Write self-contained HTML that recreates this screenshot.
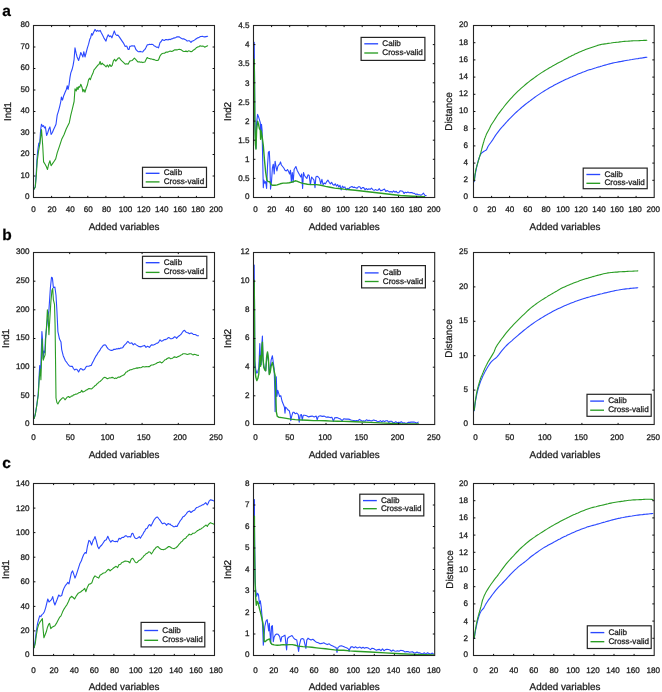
<!DOCTYPE html>
<html lang="en"><head><meta charset="utf-8"><title>Figure</title>
<style>html,body{margin:0;padding:0;background:#fff}svg{display:block}text{text-rendering:geometricPrecision;stroke:#1a1a1a;stroke-width:0.28px}</style></head>
<body>
<svg width="662" height="692" viewBox="0 0 662 692" font-family="'Liberation Sans', Arial, sans-serif" fill="#242424">
<rect width="662" height="692" fill="#fff"/>
<g>
<clipPath id="cp_a1"><rect x="33.5" y="25.5" width="181.0" height="172.0"/></clipPath>
<path d="M34.2 189.1 L35.3 186.4 L36.2 174.0 L36.9 160.4 L37.7 151.1 L38.8 143.1 L39.7 143.8 L40.6 130.2 L41.5 124.2 L42.7 126.4 L43.6 125.7 L44.5 127.9 L45.4 126.9 L46.6 135.5 L47.8 132.5 L49.0 128.7 L49.9 126.9 L51.1 134.4 L52.4 132.5 L53.6 129.5 L54.8 126.9 L56.0 124.2 L57.2 115.1 L58.4 111.3 L59.6 106.8 L60.8 101.5 L61.4 97.0 L62.5 100.1 L63.5 96.3 L65.0 92.5 L66.3 89.5 L67.3 85.7 L68.1 89.5 L69.0 85.0 L70.0 77.4 L70.8 72.9 L72.0 69.8 L73.1 65.3 L74.1 59.3 L75.0 47.9 L76.1 53.2 L77.1 57.0 L78.6 60.5 L79.8 56.3 L80.8 52.5 L82.0 55.0 L82.9 57.0 L83.8 51.7 L85.0 57.0 L86.2 52.5 L87.4 47.9 L88.6 44.2 L89.7 39.6 L90.7 37.4 L91.6 33.6 L92.5 35.1 L93.4 32.8 L95.0 29.4 L96.5 31.3 L97.7 30.3 L98.9 31.3 L100.1 30.3 L101.3 32.8 L102.5 35.1 L104.0 38.1 L105.0 39.6 L106.0 41.1 L107.0 37.4 L108.2 34.8 L109.5 36.6 L110.7 35.9 L111.9 37.8 L113.1 34.4 L114.3 30.9 L115.5 34.4 L116.7 35.4 L117.9 35.1 L119.1 36.6 L120.6 38.9 L122.1 41.1 L123.7 43.4 L125.2 46.4 L126.7 46.0 L128.2 49.5 L129.1 49.5 L129.8 46.4 L131.0 46.1 L132.1 45.7 L133.2 46.1 L134.4 45.7 L135.9 49.5 L137.0 50.6 L138.1 51.7 L139.3 51.6 L140.4 51.4 L141.5 51.8 L142.7 52.0 L143.8 50.4 L144.9 49.5 L146.1 47.2 L147.2 44.9 L148.3 44.7 L149.5 44.2 L150.6 44.5 L151.7 44.2 L152.9 44.5 L154.0 45.7 L155.1 46.2 L156.3 47.2 L157.4 47.1 L158.5 47.9 L160.0 42.7 L161.2 41.5 L162.3 39.6 L163.4 40.2 L164.6 40.4 L165.7 39.5 L166.8 39.6 L168.0 40.0 L169.1 39.3 L170.2 39.6 L171.4 38.9 L172.5 38.7 L173.6 38.1 L174.8 37.9 L175.9 37.4 L177.0 36.8 L178.2 36.9 L179.3 36.8 L180.4 37.8 L181.6 38.4 L182.7 38.9 L183.8 38.8 L185.0 39.6 L186.1 40.1 L187.2 41.1 L188.4 40.7 L189.5 40.8 L191.0 42.4 L192.1 41.1 L193.3 40.8 L194.4 40.1 L195.5 39.3 L196.7 38.5 L197.8 37.8 L198.9 37.6 L200.1 36.6 L201.2 36.5 L202.3 36.3 L203.5 36.8 L204.6 36.9 L206.1 36.6 L207.6 36.3" fill="none" stroke="#2a48ff" stroke-width="1.1" stroke-linejoin="round" stroke-linecap="round" clip-path="url(#cp_a1)"/>
<path d="M34.2 189.1 L35.3 186.9 L36.3 175.5 L37.3 160.4 L38.5 151.4 L39.7 144.6 L40.6 137.8 L41.5 129.5 L42.7 145.3 L43.6 161.9 L45.1 164.2 L46.3 166.5 L47.5 169.5 L48.7 164.2 L49.9 160.7 L51.1 165.7 L52.7 163.4 L54.2 161.2 L55.7 158.9 L57.2 152.9 L59.5 146.1 L61.7 139.3 L64.0 134.7 L66.3 128.7 L69.3 122.7 L70.8 115.1 L72.3 109.1 L74.1 101.5 L75.0 88.7 L76.2 91.0 L77.1 87.2 L78.0 89.5 L78.9 86.5 L79.8 87.2 L80.8 84.2 L82.0 87.2 L82.9 91.8 L83.8 89.5 L85.0 92.2 L86.2 88.0 L87.4 85.0 L88.6 79.7 L89.5 78.2 L90.4 79.7 L91.6 75.9 L92.8 73.6 L94.0 69.8 L95.3 68.3 L96.5 66.8 L97.7 65.3 L98.9 64.6 L100.1 61.5 L101.0 64.6 L102.2 63.1 L103.4 64.6 L104.6 65.3 L106.1 66.8 L107.3 65.0 L108.5 67.1 L109.8 64.6 L111.0 66.5 L112.2 65.3 L113.4 60.8 L114.6 59.3 L115.8 61.1 L117.0 59.6 L118.2 58.1 L119.4 57.8 L120.6 59.6 L122.1 61.1 L123.7 62.6 L125.2 64.1 L126.7 63.8 L128.2 64.1 L129.8 61.1 L131.0 60.8 L132.1 60.5 L133.2 59.4 L134.4 58.1 L135.9 59.6 L137.0 61.0 L138.1 62.0 L139.3 61.8 L140.4 62.3 L141.5 62.0 L142.7 62.6 L143.8 62.2 L144.9 62.0 L146.1 59.5 L147.2 57.5 L148.3 58.3 L149.5 58.5 L150.6 58.9 L151.7 59.0 L152.9 59.4 L154.0 59.6 L155.1 60.1 L156.3 60.5 L157.4 60.4 L158.5 60.0 L160.0 56.0 L161.2 54.4 L162.3 53.5 L163.4 53.3 L164.6 53.2 L165.7 52.3 L166.8 52.0 L168.0 52.1 L169.1 51.4 L170.2 51.0 L171.4 51.4 L172.5 51.3 L173.6 50.5 L174.8 49.8 L175.9 49.9 L177.0 49.9 L178.2 49.5 L179.3 49.3 L180.4 49.5 L181.6 50.1 L182.7 51.0 L183.8 51.5 L185.0 51.4 L186.1 51.1 L187.2 51.7 L188.4 50.9 L189.5 51.0 L191.0 51.7 L192.1 51.4 L193.3 50.2 L194.4 49.5 L195.5 48.7 L196.7 47.4 L197.8 46.9 L198.9 46.8 L200.1 45.7 L201.2 46.3 L202.3 46.0 L203.5 46.2 L204.6 47.2 L206.1 46.4 L207.6 45.7" fill="none" stroke="#2a9d24" stroke-width="1.1" stroke-linejoin="round" stroke-linecap="round" clip-path="url(#cp_a1)"/>
<rect x="33.5" y="25.5" width="181.0" height="172.0" fill="none" stroke="#242424" stroke-width="1.1"/>
<text x="33.5" y="212.3" font-size="8.1" text-anchor="middle">0</text>
<text x="52.1" y="212.3" font-size="8.1" text-anchor="middle">20</text>
<text x="70.2" y="212.3" font-size="8.1" text-anchor="middle">40</text>
<text x="88.3" y="212.3" font-size="8.1" text-anchor="middle">60</text>
<text x="106.4" y="212.3" font-size="8.1" text-anchor="middle">80</text>
<text x="125.6" y="212.3" font-size="8.1" text-anchor="middle">100</text>
<text x="143.7" y="212.3" font-size="8.1" text-anchor="middle">120</text>
<text x="161.8" y="212.3" font-size="8.1" text-anchor="middle">140</text>
<text x="179.9" y="212.3" font-size="8.1" text-anchor="middle">160</text>
<text x="198.0" y="212.3" font-size="8.1" text-anchor="middle">180</text>
<text x="216.1" y="212.3" font-size="8.1" text-anchor="middle">200</text>
<text x="29.5" y="198.5" font-size="8.1" text-anchor="end">0</text>
<text x="29.5" y="177.9" font-size="8.1" text-anchor="end">10</text>
<text x="29.5" y="156.4" font-size="8.1" text-anchor="end">20</text>
<text x="29.5" y="134.9" font-size="8.1" text-anchor="end">30</text>
<text x="29.5" y="113.4" font-size="8.1" text-anchor="end">40</text>
<text x="29.5" y="91.9" font-size="8.1" text-anchor="end">50</text>
<text x="29.5" y="70.4" font-size="8.1" text-anchor="end">60</text>
<text x="29.5" y="48.9" font-size="8.1" text-anchor="end">70</text>
<text x="29.5" y="27.4" font-size="8.1" text-anchor="end">80</text>
<path d="M51.6 197.5v-1.6 M51.6 25.5v1.6 M69.7 197.5v-1.6 M69.7 25.5v1.6 M87.8 197.5v-1.6 M87.8 25.5v1.6 M105.9 197.5v-1.6 M105.9 25.5v1.6 M124.0 197.5v-1.6 M124.0 25.5v1.6 M142.1 197.5v-1.6 M142.1 25.5v1.6 M160.2 197.5v-1.6 M160.2 25.5v1.6 M178.3 197.5v-1.6 M178.3 25.5v1.6 M196.4 197.5v-1.6 M196.4 25.5v1.6 M33.5 176.0h1.9 M214.5 176.0h-1.9 M33.5 154.5h1.9 M214.5 154.5h-1.9 M33.5 133.0h1.9 M214.5 133.0h-1.9 M33.5 111.5h1.9 M214.5 111.5h-1.9 M33.5 90.0h1.9 M214.5 90.0h-1.9 M33.5 68.5h1.9 M214.5 68.5h-1.9 M33.5 47.0h1.9 M214.5 47.0h-1.9" stroke="#111" stroke-width="1" fill="none"/>
<text x="124.1" y="230.2" font-size="9.9" text-anchor="middle">Added variables</text>
<text transform="translate(11.2 111.5) rotate(-90)" font-size="9.9" text-anchor="middle">Ind1</text>
<rect x="142.5" y="167.3" width="64.0" height="20.1" fill="#fff" stroke="#242424" stroke-width="1.2"/>
<path d="M145.7 173.3h13.8" stroke="#2a48ff" stroke-width="1.35"/>
<path d="M145.7 181.9h13.8" stroke="#2a9d24" stroke-width="1.35"/>
<text x="163.7" y="175.3" font-size="8.1">Calib</text>
<text x="163.7" y="183.9" font-size="8.1">Cross-valid</text>
</g>
<g>
<clipPath id="cp_a2"><rect x="253.5" y="25.5" width="181.2" height="172.0"/></clipPath>
<path d="M254.2 42.4 L254.5 69.8 L254.8 115.1 L255.4 137.8 L256.0 148.3 L256.6 122.7 L257.6 114.4 L258.5 116.6 L259.4 119.6 L260.3 122.7 L260.9 136.3 L261.5 124.2 L262.1 130.2 L262.7 160.4 L263.3 187.6 L263.9 180.1 L264.8 183.1 L265.7 181.6 L266.6 188.4 L267.5 166.5 L268.4 152.1 L269.3 151.4 L269.9 163.4 L270.5 189.1 L271.5 181.6 L272.4 168.0 L273.3 164.2 L274.2 174.0 L275.1 161.2 L276.0 166.5 L276.9 171.0 L277.8 166.5 L278.7 165.0 L279.6 164.2 L280.5 161.9 L281.4 165.0 L282.6 166.5 L283.8 168.0 L285.0 170.2 L286.3 171.0 L287.5 169.5 L288.7 171.8 L289.6 174.0 L290.5 170.2 L291.4 181.6 L292.3 172.5 L293.2 182.3 L294.1 169.5 L295.0 168.0 L295.9 166.5 L297.1 170.2 L298.3 172.5 L299.5 174.8 L300.8 177.0 L301.7 174.0 L302.6 188.4 L303.5 172.5 L304.4 175.5 L305.6 177.0 L306.8 178.5 L308.0 174.8 L309.2 175.5 L310.4 184.6 L311.6 177.0 L312.8 178.5 L314.0 180.1 L315.0 187.6 L315.9 177.0 L317.1 176.3 L318.3 177.0 L319.5 178.5 L320.7 183.8 L321.9 179.3 L323.1 184.6 L324.3 183.1 L325.5 183.8 L326.7 181.6 L327.9 180.1 L329.2 182.3 L330.4 183.8 L331.6 182.3 L332.8 184.6 L334.0 185.3 L335.2 183.8 L336.4 186.1 L337.6 184.6 L338.8 186.9 L340.0 185.3 L341.2 189.9 L342.4 186.1 L343.7 187.6 L344.9 186.9 L346.1 189.9 L347.3 188.4 L348.5 189.1 L349.7 187.6 L352.0 186.5 L353.3 187.5 L354.6 187.1 L355.9 187.9 L357.2 188.1 L358.5 186.7 L359.8 186.7 L361.1 189.0 L362.4 187.6 L363.7 187.6 L365.0 189.8 L366.3 188.5 L367.6 189.7 L368.9 188.8 L370.2 189.4 L371.5 188.2 L372.8 189.6 L374.1 190.4 L375.4 189.6 L376.7 190.3 L378.0 190.2 L379.3 188.7 L380.6 190.7 L381.9 190.4 L383.2 189.7 L384.5 189.1 L385.8 191.5 L387.1 190.5 L388.4 191.3 L389.7 191.9 L391.0 191.6 L392.3 192.3 L393.6 190.9 L394.9 192.2 L396.2 191.3 L397.5 192.8 L398.8 192.8 L400.1 190.8 L401.4 191.0 L402.7 191.3 L404.0 193.5 L405.3 192.2 L406.6 192.8 L407.9 192.1 L409.2 192.7 L410.5 192.5 L411.8 192.6 L413.1 193.3 L414.4 193.4 L415.7 194.4 L417.0 194.0 L418.3 194.8 L419.6 194.7 L420.9 195.2 L422.2 194.4 L423.5 193.2 L424.8 195.2 L426.1 195.6" fill="none" stroke="#2a48ff" stroke-width="1.1" stroke-linejoin="round" stroke-linecap="round" clip-path="url(#cp_a2)"/>
<path d="M254.2 59.4 L254.5 84.9 L254.8 122.7 L255.4 143.8 L256.0 149.1 L256.6 130.2 L257.6 121.1 L258.5 124.2 L259.4 128.7 L260.3 130.2 L260.6 139.3 L261.2 131.0 L262.1 136.3 L263.3 145.3 L264.5 160.4 L265.7 172.5 L266.9 180.1 L268.1 181.6 L269.6 181.6 L271.1 184.6 L272.7 185.3 L274.9 185.3 L277.2 184.9 L280.2 183.8 L283.2 183.1 L286.3 183.1 L289.3 182.8 L292.3 182.0 L295.3 180.8 L296.8 181.1 L299.8 182.3 L302.9 183.4 L307.4 184.3 L311.9 184.6 L316.5 184.6 L321.0 185.3 L325.5 186.4 L330.1 187.3 L334.6 188.1 L339.1 188.5 L343.7 189.1 L349.7 189.7 L355.1 190.2 L370.2 192.0 L385.3 193.8 L400.4 195.5 L412.5 196.2 L424.6 196.7" fill="none" stroke="#2a9d24" stroke-width="1.4" stroke-linejoin="round" stroke-linecap="round" clip-path="url(#cp_a2)"/>
<rect x="253.5" y="25.5" width="181.2" height="172.0" fill="none" stroke="#242424" stroke-width="1.1"/>
<text x="255.4" y="212.3" font-size="8.1" text-anchor="middle">0</text>
<text x="271.7" y="212.3" font-size="8.1" text-anchor="middle">20</text>
<text x="289.8" y="212.3" font-size="8.1" text-anchor="middle">40</text>
<text x="308.0" y="212.3" font-size="8.1" text-anchor="middle">60</text>
<text x="326.1" y="212.3" font-size="8.1" text-anchor="middle">80</text>
<text x="343.1" y="212.3" font-size="8.1" text-anchor="middle">100</text>
<text x="361.2" y="212.3" font-size="8.1" text-anchor="middle">120</text>
<text x="379.3" y="212.3" font-size="8.1" text-anchor="middle">140</text>
<text x="397.5" y="212.3" font-size="8.1" text-anchor="middle">160</text>
<text x="415.6" y="212.3" font-size="8.1" text-anchor="middle">180</text>
<text x="433.7" y="212.3" font-size="8.1" text-anchor="middle">200</text>
<text x="249.6" y="199.3" font-size="8.1" text-anchor="end">0</text>
<text x="249.6" y="181.1" font-size="8.1" text-anchor="end">0.5</text>
<text x="249.6" y="162.0" font-size="8.1" text-anchor="end">1</text>
<text x="249.6" y="142.9" font-size="8.1" text-anchor="end">1.5</text>
<text x="249.6" y="123.8" font-size="8.1" text-anchor="end">2</text>
<text x="249.6" y="104.6" font-size="8.1" text-anchor="end">2.5</text>
<text x="249.6" y="85.5" font-size="8.1" text-anchor="end">3</text>
<text x="249.6" y="66.4" font-size="8.1" text-anchor="end">3.5</text>
<text x="249.6" y="47.3" font-size="8.1" text-anchor="end">4</text>
<text x="249.6" y="28.2" font-size="8.1" text-anchor="end">4.5</text>
<path d="M271.6 197.5v-1.6 M271.6 25.5v1.6 M289.7 197.5v-1.6 M289.7 25.5v1.6 M307.9 197.5v-1.6 M307.9 25.5v1.6 M326.0 197.5v-1.6 M326.0 25.5v1.6 M344.1 197.5v-1.6 M344.1 25.5v1.6 M362.2 197.5v-1.6 M362.2 25.5v1.6 M380.3 197.5v-1.6 M380.3 25.5v1.6 M398.5 197.5v-1.6 M398.5 25.5v1.6 M416.6 197.5v-1.6 M416.6 25.5v1.6 M253.5 178.4h1.9 M434.7 178.4h-1.9 M253.5 159.3h1.9 M434.7 159.3h-1.9 M253.5 140.2h1.9 M434.7 140.2h-1.9 M253.5 121.1h1.9 M434.7 121.1h-1.9 M253.5 101.9h1.9 M434.7 101.9h-1.9 M253.5 82.8h1.9 M434.7 82.8h-1.9 M253.5 63.7h1.9 M434.7 63.7h-1.9 M253.5 44.6h1.9 M434.7 44.6h-1.9" stroke="#111" stroke-width="1" fill="none"/>
<text x="344.2" y="230.2" font-size="9.9" text-anchor="middle">Added variables</text>
<text transform="translate(231.4 111.5) rotate(-90)" font-size="9.9" text-anchor="middle">Ind2</text>
<rect x="361.1" y="37.4" width="63.8" height="23.0" fill="#fff" stroke="#242424" stroke-width="1.2"/>
<path d="M364.3 43.8h13.8" stroke="#2a48ff" stroke-width="1.35"/>
<path d="M364.3 53.0h13.8" stroke="#2a9d24" stroke-width="1.35"/>
<text x="382.3" y="45.8" font-size="8.1">Calib</text>
<text x="382.3" y="55.0" font-size="8.1">Cross-valid</text>
</g>
<g>
<clipPath id="cp_a3"><rect x="473.5" y="25.5" width="180.7" height="172.0"/></clipPath>
<path d="M474.2 181.6 L474.6 179.1 L474.9 176.6 L475.3 174.1 L475.6 172.3 L476.0 170.6 L476.3 168.8 L476.7 167.1 L477.0 165.5 L477.4 164.1 L477.7 162.7 L478.1 161.3 L478.4 160.1 L478.8 159.0 L479.1 158.0 L479.5 156.9 L479.8 155.9 L480.2 155.2 L480.5 154.6 L480.9 154.0 L481.2 153.4 L481.6 153.0 L481.9 152.8 L482.3 152.5 L482.6 152.3 L483.0 152.0 L483.3 151.8 L483.7 151.6 L484.0 151.3 L484.4 151.1 L484.7 150.9 L485.1 150.6 L485.4 150.4 L485.8 150.2 L486.1 150.0 L486.5 149.8 L488.0 146.5 L489.5 144.3 L491.0 142.2 L492.5 140.1 L494.0 137.7 L495.5 135.4 L497.0 133.3 L498.5 131.3 L500.0 129.4 L501.5 127.7 L503.0 126.0 L504.5 124.4 L506.0 122.7 L507.5 121.0 L509.0 119.4 L510.5 117.9 L512.0 116.3 L513.5 114.8 L515.0 113.4 L516.5 112.0 L518.0 110.6 L519.5 109.3 L521.0 108.0 L522.5 106.7 L524.0 105.5 L525.5 104.3 L527.0 103.1 L528.5 102.0 L530.0 100.9 L531.5 99.7 L533.0 98.6 L534.5 97.5 L536.0 96.4 L537.5 95.4 L539.0 94.4 L540.5 93.4 L542.0 92.4 L543.5 91.5 L545.0 90.5 L546.5 89.6 L548.0 88.7 L549.5 87.8 L551.0 87.0 L552.5 86.2 L554.0 85.3 L555.5 84.5 L557.0 83.8 L558.5 83.0 L560.0 82.2 L561.5 81.5 L563.0 80.8 L564.5 80.0 L566.0 79.3 L567.5 78.7 L569.0 78.0 L570.5 77.3 L572.0 76.7 L573.5 76.0 L575.0 75.4 L576.5 74.8 L578.0 74.1 L579.5 73.5 L581.0 72.9 L582.5 72.3 L584.0 71.8 L585.5 71.2 L587.0 70.6 L588.5 70.1 L590.0 69.6 L591.5 69.2 L593.0 68.7 L594.5 68.2 L596.0 67.8 L597.5 67.3 L599.0 66.9 L600.5 66.4 L602.0 66.0 L603.5 65.5 L605.0 65.1 L606.5 64.7 L608.0 64.3 L609.5 63.9 L611.0 63.5 L612.5 63.1 L614.0 62.8 L615.5 62.5 L617.0 62.2 L618.5 61.9 L620.0 61.6 L621.5 61.4 L623.0 61.1 L624.5 60.8 L626.0 60.5 L627.5 60.2 L629.0 60.0 L630.5 59.7 L632.0 59.5 L633.5 59.2 L635.0 59.0 L636.5 58.8 L638.0 58.6 L639.5 58.3 L641.0 58.1 L642.5 57.9 L644.0 57.6 L645.5 57.4 L646.9 57.2" fill="none" stroke="#2a48ff" stroke-width="1.1" stroke-linejoin="round" stroke-linecap="round" clip-path="url(#cp_a3)"/>
<path d="M474.2 180.8 L474.6 178.0 L474.9 175.2 L475.3 172.9 L475.6 170.6 L476.0 169.1 L476.3 167.9 L476.7 166.7 L477.0 165.5 L477.4 164.3 L477.7 163.1 L478.1 161.9 L478.4 160.7 L478.8 159.5 L479.1 158.4 L479.5 157.2 L479.8 156.0 L480.2 154.8 L480.5 153.7 L480.9 152.4 L481.2 151.1 L481.6 149.7 L481.9 148.4 L482.3 147.0 L482.6 145.7 L483.0 144.5 L483.3 143.2 L483.7 142.0 L484.0 140.8 L484.4 139.6 L484.7 138.5 L485.1 137.7 L485.4 136.8 L485.8 135.9 L486.1 135.0 L486.5 134.1 L488.0 131.3 L489.5 128.4 L491.0 125.3 L492.5 123.0 L494.0 120.7 L495.5 118.4 L497.0 116.0 L498.5 113.8 L500.0 111.8 L501.5 109.9 L503.0 108.0 L504.5 106.0 L506.0 104.1 L507.5 102.3 L509.0 100.6 L510.5 98.9 L512.0 97.3 L513.5 95.7 L515.0 94.2 L516.5 92.7 L518.0 91.2 L519.5 89.8 L521.0 88.4 L522.5 87.1 L524.0 85.8 L525.5 84.5 L527.0 83.3 L528.5 82.1 L530.0 80.9 L531.5 79.8 L533.0 78.7 L534.5 77.6 L536.0 76.5 L537.5 75.4 L539.0 74.4 L540.5 73.4 L542.0 72.4 L543.5 71.5 L545.0 70.5 L546.5 69.6 L548.0 68.7 L549.5 67.8 L551.0 67.0 L552.5 66.1 L554.0 65.3 L555.5 64.4 L557.0 63.6 L558.5 62.8 L560.0 62.1 L561.5 61.2 L563.0 60.4 L564.5 59.5 L566.0 58.7 L567.5 57.9 L569.0 57.1 L570.5 56.4 L572.0 55.6 L573.5 54.9 L575.0 54.1 L576.5 53.4 L578.0 52.7 L579.5 52.0 L581.0 51.4 L582.5 50.8 L584.0 50.2 L585.5 49.6 L587.0 49.0 L588.5 48.4 L590.0 47.9 L591.5 47.4 L593.0 46.9 L594.5 46.4 L596.0 45.9 L597.5 45.4 L599.0 45.0 L600.5 44.6 L602.0 44.3 L603.5 44.1 L605.0 43.9 L606.5 43.7 L608.0 43.4 L609.5 43.2 L611.0 43.0 L612.5 42.7 L614.0 42.5 L615.5 42.4 L617.0 42.2 L618.5 42.1 L620.0 41.9 L621.5 41.7 L623.0 41.5 L624.5 41.4 L626.0 41.3 L627.5 41.2 L629.0 41.1 L630.5 41.0 L632.0 40.9 L633.5 40.8 L635.0 40.8 L636.5 40.7 L638.0 40.7 L639.5 40.6 L641.0 40.5 L642.5 40.5 L644.0 40.4 L645.5 40.4 L646.9 40.3" fill="none" stroke="#2a9d24" stroke-width="1.1" stroke-linejoin="round" stroke-linecap="round" clip-path="url(#cp_a3)"/>
<rect x="473.5" y="25.5" width="180.7" height="172.0" fill="none" stroke="#242424" stroke-width="1.1"/>
<text x="475.4" y="212.3" font-size="8.1" text-anchor="middle">0</text>
<text x="491.7" y="212.3" font-size="8.1" text-anchor="middle">20</text>
<text x="509.7" y="212.3" font-size="8.1" text-anchor="middle">40</text>
<text x="527.8" y="212.3" font-size="8.1" text-anchor="middle">60</text>
<text x="545.9" y="212.3" font-size="8.1" text-anchor="middle">80</text>
<text x="562.9" y="212.3" font-size="8.1" text-anchor="middle">100</text>
<text x="580.9" y="212.3" font-size="8.1" text-anchor="middle">120</text>
<text x="599.0" y="212.3" font-size="8.1" text-anchor="middle">140</text>
<text x="617.1" y="212.3" font-size="8.1" text-anchor="middle">160</text>
<text x="635.1" y="212.3" font-size="8.1" text-anchor="middle">180</text>
<text x="653.2" y="212.3" font-size="8.1" text-anchor="middle">200</text>
<text x="468.0" y="198.5" font-size="8.1" text-anchor="end">0</text>
<text x="468.0" y="182.2" font-size="8.1" text-anchor="end">2</text>
<text x="468.0" y="165.0" font-size="8.1" text-anchor="end">4</text>
<text x="468.0" y="147.8" font-size="8.1" text-anchor="end">6</text>
<text x="468.0" y="130.6" font-size="8.1" text-anchor="end">8</text>
<text x="468.0" y="113.4" font-size="8.1" text-anchor="end">10</text>
<text x="468.0" y="96.2" font-size="8.1" text-anchor="end">12</text>
<text x="468.0" y="79.0" font-size="8.1" text-anchor="end">14</text>
<text x="468.0" y="61.8" font-size="8.1" text-anchor="end">16</text>
<text x="468.0" y="44.6" font-size="8.1" text-anchor="end">18</text>
<text x="468.0" y="27.4" font-size="8.1" text-anchor="end">20</text>
<path d="M491.6 197.5v-1.6 M491.6 25.5v1.6 M509.6 197.5v-1.6 M509.6 25.5v1.6 M527.7 197.5v-1.6 M527.7 25.5v1.6 M545.8 197.5v-1.6 M545.8 25.5v1.6 M563.9 197.5v-1.6 M563.9 25.5v1.6 M581.9 197.5v-1.6 M581.9 25.5v1.6 M600.0 197.5v-1.6 M600.0 25.5v1.6 M618.1 197.5v-1.6 M618.1 25.5v1.6 M636.1 197.5v-1.6 M636.1 25.5v1.6 M473.5 180.3h1.9 M654.2 180.3h-1.9 M473.5 163.1h1.9 M654.2 163.1h-1.9 M473.5 145.9h1.9 M654.2 145.9h-1.9 M473.5 128.7h1.9 M654.2 128.7h-1.9 M473.5 111.5h1.9 M654.2 111.5h-1.9 M473.5 94.3h1.9 M654.2 94.3h-1.9 M473.5 77.1h1.9 M654.2 77.1h-1.9 M473.5 59.9h1.9 M654.2 59.9h-1.9 M473.5 42.7h1.9 M654.2 42.7h-1.9" stroke="#111" stroke-width="1" fill="none"/>
<text x="565.0" y="230.2" font-size="9.9" text-anchor="middle">Added variables</text>
<text transform="translate(452.1 111.5) rotate(-90)" font-size="9.9" text-anchor="middle">Distance</text>
<rect x="583.2" y="168.1" width="64.0" height="20.6" fill="#fff" stroke="#242424" stroke-width="1.2"/>
<path d="M586.4 174.5h13.8" stroke="#2a48ff" stroke-width="1.35"/>
<path d="M586.4 183.3h13.8" stroke="#2a9d24" stroke-width="1.35"/>
<text x="604.4" y="176.5" font-size="8.1">Calib</text>
<text x="604.4" y="185.3" font-size="8.1">Cross-valid</text>
</g>
<g>
<clipPath id="cp_b1"><rect x="33.5" y="252.5" width="181.0" height="172.0"/></clipPath>
<path d="M34.2 418.4 L35.3 414.0 L36.8 404.9 L38.2 393.7 L39.1 376.5 L39.7 365.6 L40.4 375.8 L41.0 360.2 L41.6 342.1 L41.9 331.5 L42.5 339.1 L43.1 358.7 L43.9 351.1 L44.8 352.7 L45.4 339.1 L46.3 330.0 L47.4 321.0 L48.9 310.4 L50.4 287.8 L51.5 277.2 L52.4 277.9 L53.4 287.8 L54.9 287.0 L56.0 295.3 L56.9 310.4 L57.9 331.6 L59.5 339.1 L61.0 342.1 L61.7 349.6 L63.2 355.7 L65.5 361.0 L66.6 362.2 L67.8 364.0 L68.9 365.3 L70.0 366.3 L71.2 366.4 L72.3 366.3 L73.4 368.5 L74.6 370.0 L75.7 369.3 L76.8 369.3 L77.7 370.4 L78.6 372.0 L79.6 369.9 L80.6 368.5 L81.7 369.0 L82.9 370.0 L83.8 369.9 L84.7 369.3 L85.7 367.4 L86.6 366.3 L87.8 366.3 L88.9 366.3 L90.0 365.6 L91.2 365.5 L92.3 363.0 L93.4 361.0 L94.6 358.6 L95.7 356.4 L96.8 354.9 L98.0 352.7 L98.9 351.6 L99.8 350.4 L100.8 348.4 L101.8 347.4 L102.7 346.0 L103.7 345.1 L105.2 344.8 L106.1 345.7 L107.0 347.4 L108.2 348.9 L109.3 349.6 L110.4 350.3 L111.6 350.4 L112.7 350.2 L113.8 349.3 L115.0 349.4 L116.1 348.9 L117.2 348.9 L118.4 348.4 L119.5 348.7 L120.6 348.1 L121.8 348.0 L122.9 347.4 L124.0 345.6 L125.2 344.4 L126.3 343.4 L127.4 341.8 L127.9 341.3 L128.8 342.3 L129.8 343.3 L130.8 343.3 L131.8 342.8 L133.3 344.8 L134.8 343.6 L135.7 344.4 L136.6 345.1 L137.7 345.8 L138.9 346.6 L140.0 346.6 L141.1 346.9 L142.1 346.3 L143.0 345.9 L144.5 345.4 L146.0 347.4 L147.5 346.3 L148.5 346.7 L149.5 347.4 L150.6 345.7 L151.7 344.8 L152.9 345.1 L154.0 344.8 L155.1 344.3 L156.3 343.3 L157.4 343.3 L158.5 342.4 L160.0 339.8 L161.5 341.3 L162.7 340.8 L163.8 339.8 L164.9 339.6 L166.1 339.4 L167.2 338.7 L168.3 337.6 L169.5 337.8 L170.6 338.8 L171.7 338.7 L172.9 338.3 L173.8 337.5 L174.7 336.8 L175.7 337.2 L176.6 338.3 L177.8 336.9 L178.9 336.0 L180.0 335.2 L181.2 334.2 L182.2 332.5 L183.1 331.2 L184.4 330.3 L185.3 331.2 L186.2 332.3 L187.1 332.6 L188.0 332.7 L189.5 333.8 L190.4 333.3 L191.3 333.0 L192.3 333.4 L193.3 334.5 L194.2 334.5 L195.2 334.5 L196.1 334.9 L197.0 335.7 L198.5 335.7" fill="none" stroke="#2a48ff" stroke-width="1.1" stroke-linejoin="round" stroke-linecap="round" clip-path="url(#cp_b1)"/>
<path d="M34.2 418.4 L35.3 414.6 L36.8 405.5 L38.3 395.0 L39.4 376.8 L40.3 369.3 L40.9 379.8 L41.5 360.2 L42.1 339.1 L42.7 349.6 L43.3 360.2 L44.2 357.2 L45.1 354.9 L45.7 339.1 L46.3 330.0 L47.4 309.7 L48.1 315.0 L48.9 334.6 L49.6 322.5 L50.8 302.9 L51.9 290.8 L52.7 288.5 L53.4 299.8 L54.5 304.4 L55.1 325.5 L55.4 349.7 L56.0 398.0 L56.9 402.5 L57.9 404.0 L59.5 401.0 L61.7 398.7 L62.6 397.8 L63.5 397.7 L65.0 399.8 L66.0 398.7 L67.0 397.2 L68.5 396.5 L69.6 397.5 L70.6 396.9 L71.5 396.0 L72.5 396.0 L73.6 394.9 L74.6 394.7 L75.5 394.1 L76.5 394.1 L77.4 393.7 L78.3 393.1 L79.5 392.5 L80.6 392.2 L81.7 390.4 L82.6 391.9 L83.9 391.6 L85.1 390.9 L86.1 390.1 L87.2 389.8 L88.2 388.9 L89.2 388.6 L90.2 388.7 L91.2 388.9 L92.2 388.5 L93.2 387.3 L94.2 386.6 L95.2 385.4 L96.2 384.9 L97.2 383.6 L98.2 383.0 L99.2 381.8 L100.2 381.4 L101.2 380.3 L102.3 379.3 L103.3 378.0 L104.8 377.3 L105.9 377.7 L107.0 378.6 L108.0 378.6 L109.1 377.9 L110.1 378.0 L111.1 377.7 L112.1 377.4 L113.1 377.6 L114.6 378.6 L115.6 378.0 L116.6 378.4 L117.6 377.6 L118.6 377.1 L119.6 377.3 L120.6 376.5 L121.6 376.0 L122.6 375.6 L123.7 375.0 L124.8 374.0 L125.9 372.3 L127.1 371.7 L128.2 370.8 L129.1 370.5 L130.2 369.7 L131.3 369.6 L132.5 369.3 L133.6 368.8 L134.7 368.6 L135.9 368.2 L137.0 367.9 L138.1 368.1 L139.3 367.6 L140.4 367.8 L141.5 367.5 L142.7 366.6 L143.8 366.8 L144.9 367.0 L146.1 366.6 L147.2 366.7 L148.3 366.6 L149.5 366.6 L150.6 365.5 L151.7 365.0 L152.9 365.0 L154.0 364.4 L155.1 364.0 L156.3 363.5 L157.4 362.6 L158.5 362.5 L160.0 361.7 L161.5 362.9 L162.7 362.2 L163.8 361.0 L164.9 359.8 L166.1 359.5 L167.2 358.5 L168.3 357.9 L169.5 357.9 L170.6 358.7 L171.7 358.5 L172.9 357.9 L173.8 357.1 L174.7 356.9 L175.7 357.2 L176.6 357.5 L177.8 356.6 L178.9 356.4 L180.0 355.7 L181.2 354.9 L182.2 354.5 L183.1 353.7 L184.0 353.7 L185.0 353.7 L186.1 354.1 L187.2 354.5 L188.2 354.2 L189.2 353.9 L190.1 353.7 L191.0 353.7 L192.1 354.4 L193.3 354.9 L194.2 354.3 L195.2 354.5 L196.1 354.8 L197.0 355.2 L198.5 355.4" fill="none" stroke="#2a9d24" stroke-width="1.1" stroke-linejoin="round" stroke-linecap="round" clip-path="url(#cp_b1)"/>
<rect x="33.5" y="252.5" width="181.0" height="172.0" fill="none" stroke="#242424" stroke-width="1.1"/>
<text x="33.5" y="440.3" font-size="8.1" text-anchor="middle">0</text>
<text x="70.2" y="440.3" font-size="8.1" text-anchor="middle">50</text>
<text x="107.5" y="440.3" font-size="8.1" text-anchor="middle">100</text>
<text x="143.7" y="440.3" font-size="8.1" text-anchor="middle">150</text>
<text x="179.9" y="440.3" font-size="8.1" text-anchor="middle">200</text>
<text x="216.1" y="440.3" font-size="8.1" text-anchor="middle">250</text>
<text x="29.5" y="425.5" font-size="8.1" text-anchor="end">0</text>
<text x="29.5" y="397.7" font-size="8.1" text-anchor="end">50</text>
<text x="29.5" y="369.1" font-size="8.1" text-anchor="end">100</text>
<text x="29.5" y="340.4" font-size="8.1" text-anchor="end">150</text>
<text x="29.5" y="311.7" font-size="8.1" text-anchor="end">200</text>
<text x="29.5" y="283.1" font-size="8.1" text-anchor="end">250</text>
<text x="29.5" y="254.4" font-size="8.1" text-anchor="end">300</text>
<path d="M69.7 424.5v-1.6 M69.7 252.5v1.6 M105.9 424.5v-1.6 M105.9 252.5v1.6 M142.1 424.5v-1.6 M142.1 252.5v1.6 M178.3 424.5v-1.6 M178.3 252.5v1.6 M33.5 395.8h1.9 M214.5 395.8h-1.9 M33.5 367.2h1.9 M214.5 367.2h-1.9 M33.5 338.5h1.9 M214.5 338.5h-1.9 M33.5 309.8h1.9 M214.5 309.8h-1.9 M33.5 281.2h1.9 M214.5 281.2h-1.9" stroke="#111" stroke-width="1" fill="none"/>
<text x="124.1" y="458.2" font-size="9.9" text-anchor="middle">Added variables</text>
<text transform="translate(8.8 338.5) rotate(-90)" font-size="9.9" text-anchor="middle">Ind1</text>
<rect x="142.5" y="256.3" width="64.3" height="22.2" fill="#fff" stroke="#242424" stroke-width="1.2"/>
<path d="M145.7 262.7h13.8" stroke="#2a48ff" stroke-width="1.35"/>
<path d="M145.7 272.4h13.8" stroke="#2a9d24" stroke-width="1.35"/>
<text x="163.7" y="264.7" font-size="8.1">Calib</text>
<text x="163.7" y="274.4" font-size="8.1">Cross-valid</text>
</g>
<g>
<clipPath id="cp_b2"><rect x="253.5" y="252.5" width="181.2" height="172.0"/></clipPath>
<path d="M254.2 265.0 L254.5 299.8 L254.8 360.2 L255.7 369.3 L256.8 373.1 L257.9 371.5 L258.8 367.8 L259.4 354.2 L259.8 343.6 L260.6 360.2 L261.2 364.7 L261.8 345.1 L262.4 336.0 L263.0 357.2 L263.9 366.3 L264.8 369.3 L265.7 370.8 L266.6 360.2 L267.5 352.7 L268.4 360.2 L269.3 373.8 L270.2 369.3 L271.1 360.2 L272.4 355.7 L273.3 362.5 L274.2 369.3 L274.8 390.4 L275.1 411.6 L275.7 398.0 L276.3 376.8 L276.9 396.5 L277.8 390.4 L278.7 393.4 L279.6 396.5 L280.8 395.7 L282.0 401.0 L283.2 404.0 L284.4 407.0 L285.0 413.1 L285.6 407.0 L286.9 408.5 L288.1 410.1 L289.3 410.8 L290.2 414.6 L290.8 420.6 L291.7 416.1 L292.9 412.3 L294.1 412.3 L295.3 413.8 L296.8 413.1 L298.3 414.6 L299.2 422.1 L300.2 415.3 L301.4 414.6 L302.3 419.9 L303.2 415.3 L304.7 415.3 L306.6 415.8 L308.6 416.9 L310.4 416.4 L312.2 416.1 L314.2 416.9 L316.2 416.1 L317.2 419.9 L318.3 416.4 L320.2 415.8 L322.2 416.4 L324.3 416.1 L326.3 417.3 L328.2 416.9 L330.1 417.6 L331.9 417.3 L333.4 421.4 L334.6 417.9 L336.9 417.6 L339.1 418.4 L340.6 419.1 L342.1 420.6 L343.7 418.8 L345.9 419.1 L348.2 419.1 L349.7 419.4 L351.0 420.0 L352.4 420.3 L353.8 420.5 L355.2 420.8 L356.6 420.5 L358.0 420.9 L359.4 419.4 L360.8 420.2 L362.2 421.1 L363.6 420.7 L365.0 421.2 L366.4 419.8 L367.8 420.6 L369.2 420.2 L370.6 420.8 L372.0 420.9 L373.4 420.0 L374.8 420.4 L376.2 420.6 L377.6 421.8 L379.0 421.6 L380.4 420.6 L381.8 421.8 L383.2 420.7 L384.6 421.6 L386.0 420.8 L387.4 420.7 L388.8 422.3 L390.2 421.2 L391.6 421.2 L393.0 422.7 L394.4 422.6 L395.8 421.6 L397.2 422.9 L398.6 422.2 L400.0 422.5 L401.4 421.7 L402.8 423.1 L404.2 422.7 L405.6 423.3 L407.0 423.2 L408.4 422.2 L409.8 422.4 L411.2 422.1 L412.6 422.1 L414.0 422.0 L415.4 422.5 L416.8 423.2 L418.2 422.1" fill="none" stroke="#2a48ff" stroke-width="1.1" stroke-linejoin="round" stroke-linecap="round" clip-path="url(#cp_b2)"/>
<path d="M254.2 280.2 L254.5 314.9 L254.8 366.3 L255.7 376.8 L256.8 380.6 L257.9 378.3 L258.8 373.8 L259.4 366.3 L260.0 355.7 L260.6 366.3 L261.2 360.2 L261.8 348.1 L262.4 342.1 L263.0 360.2 L263.9 367.8 L264.8 370.0 L265.7 370.8 L266.6 357.2 L267.5 351.9 L268.4 358.7 L269.3 374.6 L270.2 372.3 L271.1 366.3 L272.4 362.5 L273.3 366.3 L274.2 371.5 L275.1 375.3 L275.7 393.4 L276.3 411.6 L277.2 416.1 L278.7 417.3 L281.7 417.6 L286.3 418.4 L290.8 419.1 L295.3 419.6 L301.4 420.0 L307.4 420.3 L313.4 420.6 L319.5 420.6 L325.5 420.8 L331.6 421.1 L337.6 421.2 L343.7 421.4 L349.7 421.5 L355.1 421.8 L370.2 422.4 L385.3 423.1 L400.4 423.7 L418.5 424.0" fill="none" stroke="#2a9d24" stroke-width="1.4" stroke-linejoin="round" stroke-linecap="round" clip-path="url(#cp_b2)"/>
<rect x="253.5" y="252.5" width="181.2" height="172.0" fill="none" stroke="#242424" stroke-width="1.1"/>
<text x="255.4" y="440.3" font-size="8.1" text-anchor="middle">0</text>
<text x="289.8" y="440.3" font-size="8.1" text-anchor="middle">50</text>
<text x="325.0" y="440.3" font-size="8.1" text-anchor="middle">100</text>
<text x="361.2" y="440.3" font-size="8.1" text-anchor="middle">150</text>
<text x="397.5" y="440.3" font-size="8.1" text-anchor="middle">200</text>
<text x="433.7" y="440.3" font-size="8.1" text-anchor="middle">250</text>
<text x="249.6" y="425.5" font-size="8.1" text-anchor="end">0</text>
<text x="249.6" y="397.7" font-size="8.1" text-anchor="end">2</text>
<text x="249.6" y="369.1" font-size="8.1" text-anchor="end">4</text>
<text x="249.6" y="340.4" font-size="8.1" text-anchor="end">6</text>
<text x="249.6" y="311.7" font-size="8.1" text-anchor="end">8</text>
<text x="249.6" y="283.1" font-size="8.1" text-anchor="end">10</text>
<text x="249.6" y="254.4" font-size="8.1" text-anchor="end">12</text>
<path d="M289.7 424.5v-1.6 M289.7 252.5v1.6 M326.0 424.5v-1.6 M326.0 252.5v1.6 M362.2 424.5v-1.6 M362.2 252.5v1.6 M398.5 424.5v-1.6 M398.5 252.5v1.6 M253.5 395.8h1.9 M434.7 395.8h-1.9 M253.5 367.2h1.9 M434.7 367.2h-1.9 M253.5 338.5h1.9 M434.7 338.5h-1.9 M253.5 309.8h1.9 M434.7 309.8h-1.9 M253.5 281.2h1.9 M434.7 281.2h-1.9" stroke="#111" stroke-width="1" fill="none"/>
<text x="344.2" y="458.2" font-size="9.9" text-anchor="middle">Added variables</text>
<text transform="translate(231.4 338.5) rotate(-90)" font-size="9.9" text-anchor="middle">Ind2</text>
<rect x="361.6" y="265.6" width="63.8" height="22.3" fill="#fff" stroke="#242424" stroke-width="1.2"/>
<path d="M364.8 272.9h13.8" stroke="#2a48ff" stroke-width="1.35"/>
<path d="M364.8 281.5h13.8" stroke="#2a9d24" stroke-width="1.35"/>
<text x="382.8" y="274.9" font-size="8.1">Calib</text>
<text x="382.8" y="283.5" font-size="8.1">Cross-valid</text>
</g>
<g>
<clipPath id="cp_b3"><rect x="473.5" y="252.5" width="180.7" height="172.0"/></clipPath>
<path d="M474.2 410.8 L474.6 408.1 L474.9 405.3 L475.3 402.6 L475.6 400.6 L476.0 398.7 L476.3 396.8 L476.7 394.8 L477.0 393.3 L477.4 391.9 L477.7 390.5 L478.1 389.1 L478.4 387.8 L478.8 386.7 L479.1 385.7 L479.5 384.6 L479.8 383.6 L480.2 382.5 L480.5 381.5 L480.9 380.6 L481.2 379.8 L481.6 379.0 L481.9 378.2 L482.3 377.4 L482.6 376.6 L483.0 375.8 L483.3 375.1 L483.7 374.4 L484.0 373.7 L484.4 373.0 L484.7 372.3 L485.1 371.6 L485.4 371.0 L485.8 370.4 L486.1 369.7 L486.5 369.1 L488.0 366.5 L489.5 364.2 L491.0 362.2 L492.5 360.7 L494.0 359.4 L495.5 358.3 L497.0 356.9 L498.5 355.1 L500.0 353.1 L501.5 351.2 L503.0 349.4 L504.5 347.7 L506.0 346.0 L507.5 344.5 L509.0 343.2 L510.5 341.9 L512.0 340.6 L513.5 339.2 L515.0 337.9 L516.5 336.6 L518.0 335.3 L519.5 334.0 L521.0 332.8 L522.5 331.5 L524.0 330.3 L525.5 329.1 L527.0 327.9 L528.5 326.7 L530.0 325.6 L531.5 324.5 L533.0 323.5 L534.5 322.4 L536.0 321.4 L537.5 320.4 L539.0 319.5 L540.5 318.5 L542.0 317.6 L543.5 316.7 L545.0 315.8 L546.5 314.9 L548.0 314.1 L549.5 313.2 L551.0 312.4 L552.5 311.6 L554.0 310.8 L555.5 310.1 L557.0 309.3 L558.5 308.6 L560.0 307.9 L561.5 307.2 L563.0 306.5 L564.5 305.8 L566.0 305.2 L567.5 304.6 L569.0 303.9 L570.5 303.3 L572.0 302.7 L573.5 302.2 L575.0 301.6 L576.5 301.1 L578.0 300.5 L579.5 300.0 L581.0 299.5 L582.5 299.0 L584.0 298.5 L585.5 298.1 L587.0 297.6 L588.5 297.2 L590.0 296.8 L591.5 296.3 L593.0 295.9 L594.5 295.6 L596.0 295.2 L597.5 294.8 L599.0 294.4 L600.5 294.0 L602.0 293.7 L603.5 293.3 L605.0 292.9 L606.5 292.6 L608.0 292.2 L609.5 291.9 L611.0 291.5 L612.5 291.2 L614.0 290.9 L615.5 290.5 L617.0 290.2 L618.5 290.0 L620.0 289.7 L621.5 289.5 L623.0 289.3 L624.5 289.1 L626.0 288.9 L627.5 288.7 L629.0 288.6 L630.5 288.4 L632.0 288.3 L633.5 288.1 L635.0 288.0 L636.5 287.9 L637.8 287.8" fill="none" stroke="#2a48ff" stroke-width="1.1" stroke-linejoin="round" stroke-linecap="round" clip-path="url(#cp_b3)"/>
<path d="M474.2 410.1 L474.6 407.1 L474.9 404.1 L475.3 401.1 L475.6 398.9 L476.0 396.8 L476.3 394.7 L476.7 392.6 L477.0 391.0 L477.4 389.6 L477.7 388.2 L478.1 386.8 L478.4 385.5 L478.8 384.3 L479.1 383.2 L479.5 382.0 L479.8 380.8 L480.2 379.7 L480.5 378.5 L480.9 377.6 L481.2 376.8 L481.6 376.0 L481.9 375.2 L482.3 374.4 L482.6 373.5 L483.0 372.7 L483.3 371.9 L483.7 371.1 L484.0 370.3 L484.4 369.5 L484.7 368.6 L485.1 367.8 L485.4 367.1 L485.8 366.4 L486.1 365.7 L486.5 365.0 L488.0 362.0 L489.5 359.6 L491.0 357.1 L492.5 354.6 L494.0 352.0 L495.5 348.1 L497.0 345.4 L498.5 343.2 L500.0 341.1 L501.5 339.0 L503.0 337.1 L504.5 335.1 L506.0 333.2 L507.5 331.4 L509.0 329.6 L510.5 327.9 L512.0 326.3 L513.5 324.7 L515.0 323.2 L516.5 321.7 L518.0 320.1 L519.5 318.6 L521.0 317.1 L522.5 315.7 L524.0 314.3 L525.5 312.9 L527.0 311.4 L528.5 310.0 L530.0 308.6 L531.5 307.4 L533.0 306.2 L534.5 305.1 L536.0 304.0 L537.5 302.9 L539.0 301.9 L540.5 300.9 L542.0 299.9 L543.5 299.0 L545.0 298.0 L546.5 297.1 L548.0 296.1 L549.5 295.3 L551.0 294.4 L552.5 293.5 L554.0 292.6 L555.5 291.7 L557.0 290.9 L558.5 290.0 L560.0 289.1 L561.5 288.3 L563.0 287.6 L564.5 286.9 L566.0 286.2 L567.5 285.6 L569.0 284.9 L570.5 284.3 L572.0 283.7 L573.5 283.1 L575.0 282.5 L576.5 281.9 L578.0 281.4 L579.5 280.8 L581.0 280.3 L582.5 279.8 L584.0 279.3 L585.5 278.8 L587.0 278.4 L588.5 277.9 L590.0 277.5 L591.5 277.1 L593.0 276.6 L594.5 276.2 L596.0 275.8 L597.5 275.4 L599.0 275.0 L600.5 274.6 L602.0 274.2 L603.5 273.8 L605.0 273.5 L606.5 273.2 L608.0 272.9 L609.5 272.7 L611.0 272.5 L612.5 272.4 L614.0 272.2 L615.5 272.1 L617.0 272.1 L618.5 271.9 L620.0 271.8 L621.5 271.7 L623.0 271.6 L624.5 271.6 L626.0 271.5 L627.5 271.4 L629.0 271.3 L630.5 271.3 L632.0 271.2 L633.5 271.1 L635.0 271.0 L636.5 271.0 L637.8 270.9" fill="none" stroke="#2a9d24" stroke-width="1.1" stroke-linejoin="round" stroke-linecap="round" clip-path="url(#cp_b3)"/>
<rect x="473.5" y="252.5" width="180.7" height="172.0" fill="none" stroke="#242424" stroke-width="1.1"/>
<text x="475.4" y="440.3" font-size="8.1" text-anchor="middle">0</text>
<text x="509.7" y="440.3" font-size="8.1" text-anchor="middle">50</text>
<text x="544.8" y="440.3" font-size="8.1" text-anchor="middle">100</text>
<text x="580.9" y="440.3" font-size="8.1" text-anchor="middle">150</text>
<text x="617.1" y="440.3" font-size="8.1" text-anchor="middle">200</text>
<text x="653.2" y="440.3" font-size="8.1" text-anchor="middle">250</text>
<text x="468.0" y="425.5" font-size="8.1" text-anchor="end">0</text>
<text x="468.0" y="392.0" font-size="8.1" text-anchor="end">5</text>
<text x="468.0" y="357.6" font-size="8.1" text-anchor="end">10</text>
<text x="468.0" y="323.2" font-size="8.1" text-anchor="end">15</text>
<text x="468.0" y="288.8" font-size="8.1" text-anchor="end">20</text>
<text x="468.0" y="254.4" font-size="8.1" text-anchor="end">25</text>
<path d="M509.6 424.5v-1.6 M509.6 252.5v1.6 M545.8 424.5v-1.6 M545.8 252.5v1.6 M581.9 424.5v-1.6 M581.9 252.5v1.6 M618.1 424.5v-1.6 M618.1 252.5v1.6 M473.5 390.1h1.9 M654.2 390.1h-1.9 M473.5 355.7h1.9 M654.2 355.7h-1.9 M473.5 321.3h1.9 M654.2 321.3h-1.9 M473.5 286.9h1.9 M654.2 286.9h-1.9" stroke="#111" stroke-width="1" fill="none"/>
<text x="565.0" y="458.2" font-size="9.9" text-anchor="middle">Added variables</text>
<text transform="translate(452.1 338.5) rotate(-90)" font-size="9.9" text-anchor="middle">Distance</text>
<rect x="587.0" y="394.3" width="64.2" height="22.0" fill="#fff" stroke="#242424" stroke-width="1.2"/>
<path d="M590.2 401.1h13.8" stroke="#2a48ff" stroke-width="1.35"/>
<path d="M590.2 410.2h13.8" stroke="#2a9d24" stroke-width="1.35"/>
<text x="608.2" y="403.1" font-size="8.1">Calib</text>
<text x="608.2" y="412.2" font-size="8.1">Cross-valid</text>
</g>
<g>
<clipPath id="cp_c1"><rect x="33.5" y="483.5" width="181.0" height="172.0"/></clipPath>
<path d="M34.2 647.6 L35.3 640.1 L36.3 631.0 L37.6 623.4 L38.8 618.9 L39.7 615.9 L40.9 616.6 L42.1 614.4 L43.3 613.6 L44.5 611.4 L45.7 607.6 L46.6 603.8 L47.8 599.0 L49.0 602.0 L50.2 600.8 L51.5 599.6 L52.7 596.6 L53.9 602.3 L54.9 605.0 L56.0 602.3 L57.2 599.3 L58.7 595.0 L60.2 596.3 L61.7 595.5 L62.9 591.0 L64.1 587.9 L65.3 585.7 L66.6 584.2 L67.8 582.4 L69.0 583.9 L70.2 578.1 L71.4 572.8 L72.6 570.9 L73.8 574.4 L75.0 578.1 L76.2 575.1 L77.4 571.3 L78.6 567.6 L79.8 563.8 L81.4 560.8 L82.1 558.5 L83.6 554.8 L85.1 552.5 L86.2 553.3 L87.4 546.5 L88.9 540.4 L90.1 541.2 L91.6 545.0 L93.1 540.4 L94.0 539.0 L95.0 536.6 L96.2 540.4 L97.7 546.5 L98.9 548.7 L100.2 546.5 L101.8 545.0 L103.3 542.7 L104.8 540.4 L106.3 539.7 L107.8 536.2 L109.3 539.7 L110.8 542.2 L112.3 540.4 L113.8 541.2 L115.3 541.6 L116.3 541.3 L117.3 541.9 L118.2 540.3 L119.1 538.2 L120.6 538.9 L121.5 537.8 L122.4 537.4 L123.4 537.5 L124.4 536.6 L125.4 535.8 L126.4 535.9 L127.9 537.1 L129.1 536.6 L130.6 537.1 L131.8 533.6 L132.8 533.2 L134.4 537.1 L135.3 538.2 L136.3 538.6 L137.2 538.3 L138.1 537.7 L139.3 536.6 L140.4 538.2 L141.9 535.6 L142.9 534.2 L143.9 532.1 L144.8 531.1 L145.7 529.1 L147.2 528.3 L148.7 525.3 L149.9 524.6 L151.0 526.1 L152.5 523.1 L154.0 520.0 L155.5 518.1 L156.5 517.3 L157.5 517.0 L159.0 519.0 L159.9 520.1 L160.8 521.5 L161.7 522.9 L162.6 523.8 L163.6 523.2 L164.6 523.1 L165.5 523.9 L166.5 525.3 L167.4 524.1 L168.3 523.5 L169.2 524.2 L170.2 524.1 L171.1 525.2 L172.1 525.6 L173.6 526.8 L174.6 526.7 L175.6 526.1 L177.1 526.5 L178.0 524.5 L178.9 523.1 L180.4 520.5 L181.6 519.2 L182.7 517.0 L184.2 516.3 L185.2 515.1 L186.2 514.0 L187.1 512.6 L188.0 511.7 L189.5 511.0 L191.0 512.5 L191.9 511.7 L192.8 511.0 L193.8 510.4 L194.8 509.9 L195.8 508.3 L196.7 507.5 L197.6 507.3 L198.5 506.9 L199.5 506.3 L200.4 506.0 L201.3 505.5 L202.3 504.9 L203.3 504.8 L204.3 503.9 L205.8 502.7 L207.3 504.9 L208.2 503.2 L209.1 501.1 L210.0 500.3 L210.9 499.6 L211.9 500.4 L212.9 500.4 L214.0 501.1" fill="none" stroke="#2a48ff" stroke-width="1.1" stroke-linejoin="round" stroke-linecap="round" clip-path="url(#cp_c1)"/>
<path d="M34.2 647.6 L35.3 643.1 L36.3 635.5 L37.6 628.0 L38.8 624.2 L40.0 621.9 L41.2 620.4 L42.4 618.6 L43.0 628.0 L43.9 637.8 L45.1 634.8 L46.3 631.8 L47.5 627.2 L48.7 624.2 L49.6 623.4 L50.8 628.7 L52.1 627.2 L53.4 626.5 L54.9 625.7 L56.4 623.4 L57.9 620.4 L59.5 617.4 L61.0 615.9 L62.5 612.1 L64.0 609.1 L65.5 606.8 L67.0 604.6 L68.5 601.5 L70.0 597.8 L71.5 596.3 L73.1 597.5 L74.6 599.0 L76.1 596.3 L77.2 594.6 L78.3 593.2 L79.5 592.6 L80.6 592.0 L81.7 591.0 L82.9 590.2 L83.8 589.3 L84.7 588.4 L85.9 591.7 L87.4 587.2 L88.9 584.2 L90.4 583.9 L91.9 582.7 L93.4 578.1 L95.0 575.9 L96.5 576.9 L97.6 577.4 L98.7 578.1 L100.2 575.1 L101.4 574.5 L102.5 573.6 L103.6 573.0 L104.8 572.8 L105.9 571.8 L107.0 570.6 L108.2 569.4 L109.2 569.7 L110.1 570.9 L111.2 569.8 L112.3 569.1 L113.5 568.0 L114.6 567.3 L116.1 566.3 L117.6 567.6 L119.1 564.5 L120.6 564.2 L121.5 562.9 L122.4 562.3 L123.4 562.0 L124.4 561.2 L125.5 561.0 L126.7 561.2 L128.2 561.5 L129.8 562.8 L131.3 558.9 L132.8 558.2 L134.4 560.8 L135.3 562.1 L136.3 562.8 L137.2 562.4 L138.1 561.3 L139.0 560.4 L139.9 560.1 L140.9 559.5 L141.9 558.2 L142.9 557.3 L143.9 555.8 L144.8 555.1 L145.7 554.0 L147.2 553.3 L148.7 551.8 L150.2 552.2 L151.4 554.0 L152.9 551.8 L153.8 550.0 L154.7 549.2 L156.3 547.2 L157.8 546.5 L158.7 547.3 L159.6 548.3 L160.6 549.0 L161.5 549.5 L162.5 549.5 L163.5 549.8 L164.4 549.2 L165.3 549.2 L166.2 548.3 L167.1 547.7 L168.6 546.5 L169.6 546.6 L170.6 547.2 L171.6 548.0 L172.6 548.3 L174.1 548.7 L175.0 548.1 L175.9 547.7 L177.4 546.5 L178.3 545.3 L179.2 544.2 L180.2 543.2 L181.2 541.9 L182.3 541.2 L183.4 539.7 L184.6 538.7 L185.7 538.2 L186.7 536.6 L187.7 535.9 L189.2 534.1 L190.1 534.8 L191.0 534.7 L191.9 534.2 L192.8 533.2 L193.8 533.3 L194.8 532.9 L195.8 532.1 L196.7 531.4 L197.6 530.5 L198.5 530.2 L199.7 529.3 L200.8 529.1 L201.8 528.2 L202.8 527.6 L203.7 526.8 L204.6 526.1 L206.1 525.0 L207.3 526.5 L208.2 524.8 L209.1 523.8 L210.6 522.6 L211.5 523.2 L212.4 523.5 L214.0 524.3" fill="none" stroke="#2a9d24" stroke-width="1.1" stroke-linejoin="round" stroke-linecap="round" clip-path="url(#cp_c1)"/>
<rect x="33.5" y="483.5" width="181.0" height="172.0" fill="none" stroke="#242424" stroke-width="1.1"/>
<text x="33.5" y="672.5" font-size="8.1" text-anchor="middle">0</text>
<text x="54.1" y="672.5" font-size="8.1" text-anchor="middle">20</text>
<text x="74.2" y="672.5" font-size="8.1" text-anchor="middle">40</text>
<text x="94.3" y="672.5" font-size="8.1" text-anchor="middle">60</text>
<text x="114.4" y="672.5" font-size="8.1" text-anchor="middle">80</text>
<text x="135.7" y="672.5" font-size="8.1" text-anchor="middle">100</text>
<text x="155.8" y="672.5" font-size="8.1" text-anchor="middle">120</text>
<text x="175.9" y="672.5" font-size="8.1" text-anchor="middle">140</text>
<text x="196.0" y="672.5" font-size="8.1" text-anchor="middle">160</text>
<text x="216.1" y="672.5" font-size="8.1" text-anchor="middle">180</text>
<text x="29.5" y="657.0" font-size="8.1" text-anchor="end">0</text>
<text x="29.5" y="633.3" font-size="8.1" text-anchor="end">20</text>
<text x="29.5" y="608.8" font-size="8.1" text-anchor="end">40</text>
<text x="29.5" y="584.2" font-size="8.1" text-anchor="end">60</text>
<text x="29.5" y="559.6" font-size="8.1" text-anchor="end">80</text>
<text x="29.5" y="535.0" font-size="8.1" text-anchor="end">100</text>
<text x="29.5" y="510.5" font-size="8.1" text-anchor="end">120</text>
<text x="29.5" y="485.9" font-size="8.1" text-anchor="end">140</text>
<path d="M53.6 655.5v-1.6 M53.6 483.5v1.6 M73.7 655.5v-1.6 M73.7 483.5v1.6 M93.8 655.5v-1.6 M93.8 483.5v1.6 M113.9 655.5v-1.6 M113.9 483.5v1.6 M134.1 655.5v-1.6 M134.1 483.5v1.6 M154.2 655.5v-1.6 M154.2 483.5v1.6 M174.3 655.5v-1.6 M174.3 483.5v1.6 M194.4 655.5v-1.6 M194.4 483.5v1.6 M33.5 630.9h1.9 M214.5 630.9h-1.9 M33.5 606.4h1.9 M214.5 606.4h-1.9 M33.5 581.8h1.9 M214.5 581.8h-1.9 M33.5 557.2h1.9 M214.5 557.2h-1.9 M33.5 532.6h1.9 M214.5 532.6h-1.9 M33.5 508.1h1.9 M214.5 508.1h-1.9" stroke="#111" stroke-width="1" fill="none"/>
<text x="124.1" y="689.9" font-size="9.9" text-anchor="middle">Added variables</text>
<text transform="translate(8.8 569.5) rotate(-90)" font-size="9.9" text-anchor="middle">Ind1</text>
<rect x="141.1" y="622.4" width="63.7" height="24.5" fill="#fff" stroke="#242424" stroke-width="1.2"/>
<path d="M144.3 630.5h13.8" stroke="#2a48ff" stroke-width="1.35"/>
<path d="M144.3 640.3h13.8" stroke="#2a9d24" stroke-width="1.35"/>
<text x="162.3" y="632.5" font-size="8.1">Calib</text>
<text x="162.3" y="642.3" font-size="8.1">Cross-valid</text>
</g>
<g>
<clipPath id="cp_c2"><rect x="253.5" y="483.5" width="181.2" height="172.0"/></clipPath>
<path d="M254.4 499.6 L254.5 529.8 L255.1 578.1 L255.7 590.2 L256.6 596.3 L257.6 593.2 L258.5 594.7 L259.4 603.8 L260.3 600.8 L261.2 606.8 L262.1 617.4 L262.7 628.0 L263.3 645.3 L263.9 638.5 L264.8 626.5 L266.0 621.2 L267.2 619.7 L268.1 626.5 L268.7 631.0 L269.3 623.4 L270.2 635.5 L270.8 643.1 L271.5 626.5 L272.4 625.7 L273.3 641.6 L274.2 637.0 L275.4 634.8 L276.6 634.0 L278.1 634.3 L279.6 636.3 L280.8 641.6 L281.7 637.0 L283.2 636.3 L285.0 635.2 L286.0 644.6 L286.6 649.9 L287.5 638.5 L289.0 637.0 L290.5 636.3 L292.0 635.5 L293.5 637.8 L295.0 639.3 L296.8 640.1 L298.0 647.6 L298.6 651.4 L299.5 644.6 L300.8 639.3 L302.3 638.5 L303.8 639.3 L305.0 644.6 L305.9 648.4 L306.8 640.1 L308.0 638.2 L309.5 639.3 L311.0 640.1 L312.8 639.3 L314.7 640.8 L316.5 642.3 L318.3 642.8 L320.1 643.8 L321.9 643.4 L323.7 642.8 L325.5 643.8 L327.3 644.6 L329.2 643.8 L331.0 645.3 L332.8 646.1 L334.6 646.9 L336.1 647.6 L337.0 652.4 L337.9 647.6 L339.7 646.1 L341.5 645.8 L343.4 646.4 L345.2 647.3 L347.0 647.9 L348.5 649.1 L349.1 651.4 L349.7 649.1 L351.0 646.9 L352.5 646.7 L354.0 647.9 L355.5 646.8 L357.0 647.9 L358.5 647.6 L360.0 647.1 L361.5 648.2 L363.0 647.3 L364.5 648.2 L366.0 647.6 L367.5 647.8 L369.0 648.6 L370.5 649.6 L372.0 648.2 L373.5 648.5 L375.0 649.5 L376.5 650.3 L378.0 649.6 L379.5 649.4 L381.0 650.7 L382.5 648.9 L384.0 650.7 L385.5 649.6 L387.0 649.4 L388.5 649.5 L390.0 650.0 L391.5 651.2 L393.0 650.0 L394.5 651.0 L396.0 651.2 L397.5 650.8 L399.0 651.3 L400.5 650.4 L402.0 650.5 L403.5 650.9 L405.0 652.0 L406.5 651.6 L408.0 651.5 L409.5 652.2 L411.0 652.0 L412.5 651.8 L414.0 653.0 L415.5 652.9 L417.0 652.1 L418.5 652.9 L420.0 652.9 L421.5 653.8 L423.0 653.6 L424.5 652.8 L426.0 654.4 L427.5 652.7 L429.0 653.4 L430.5 654.2 L432.0 653.1 L433.5 653.9" fill="none" stroke="#2a48ff" stroke-width="1.1" stroke-linejoin="round" stroke-linecap="round" clip-path="url(#cp_c2)"/>
<path d="M254.4 516.2 L254.5 544.9 L255.1 582.7 L255.7 597.8 L256.3 605.3 L257.3 601.5 L258.2 603.1 L259.4 608.3 L260.6 612.9 L261.8 618.2 L263.0 623.4 L263.6 631.0 L264.2 641.6 L265.4 641.6 L266.9 640.1 L268.4 639.3 L269.6 638.9 L270.5 642.3 L271.9 644.3 L274.2 644.9 L277.2 645.3 L280.2 645.0 L283.2 644.6 L286.3 644.9 L289.3 644.6 L292.3 644.6 L295.3 645.3 L298.3 646.1 L302.9 646.6 L307.4 646.9 L311.9 647.3 L316.5 647.9 L321.0 648.4 L325.5 648.8 L330.1 649.4 L334.6 649.9 L339.1 650.2 L343.7 650.3 L349.7 650.9 L355.1 651.2 L370.2 652.0 L385.3 652.9 L400.4 653.7 L415.5 654.4 L433.7 654.9" fill="none" stroke="#2a9d24" stroke-width="1.4" stroke-linejoin="round" stroke-linecap="round" clip-path="url(#cp_c2)"/>
<rect x="253.5" y="483.5" width="181.2" height="172.0" fill="none" stroke="#242424" stroke-width="1.1"/>
<text x="255.4" y="672.5" font-size="8.1" text-anchor="middle">0</text>
<text x="273.7" y="672.5" font-size="8.1" text-anchor="middle">20</text>
<text x="293.9" y="672.5" font-size="8.1" text-anchor="middle">40</text>
<text x="314.0" y="672.5" font-size="8.1" text-anchor="middle">60</text>
<text x="334.1" y="672.5" font-size="8.1" text-anchor="middle">80</text>
<text x="353.2" y="672.5" font-size="8.1" text-anchor="middle">100</text>
<text x="373.3" y="672.5" font-size="8.1" text-anchor="middle">120</text>
<text x="393.4" y="672.5" font-size="8.1" text-anchor="middle">140</text>
<text x="413.6" y="672.5" font-size="8.1" text-anchor="middle">160</text>
<text x="433.7" y="672.5" font-size="8.1" text-anchor="middle">180</text>
<text x="249.6" y="657.0" font-size="8.1" text-anchor="end">0</text>
<text x="249.6" y="636.4" font-size="8.1" text-anchor="end">1</text>
<text x="249.6" y="614.9" font-size="8.1" text-anchor="end">2</text>
<text x="249.6" y="593.4" font-size="8.1" text-anchor="end">3</text>
<text x="249.6" y="571.9" font-size="8.1" text-anchor="end">4</text>
<text x="249.6" y="550.4" font-size="8.1" text-anchor="end">5</text>
<text x="249.6" y="528.9" font-size="8.1" text-anchor="end">6</text>
<text x="249.6" y="507.4" font-size="8.1" text-anchor="end">7</text>
<text x="249.6" y="485.9" font-size="8.1" text-anchor="end">8</text>
<path d="M273.6 655.5v-1.6 M273.6 483.5v1.6 M293.8 655.5v-1.6 M293.8 483.5v1.6 M313.9 655.5v-1.6 M313.9 483.5v1.6 M334.0 655.5v-1.6 M334.0 483.5v1.6 M354.2 655.5v-1.6 M354.2 483.5v1.6 M374.3 655.5v-1.6 M374.3 483.5v1.6 M394.4 655.5v-1.6 M394.4 483.5v1.6 M414.6 655.5v-1.6 M414.6 483.5v1.6 M253.5 634.0h1.9 M434.7 634.0h-1.9 M253.5 612.5h1.9 M434.7 612.5h-1.9 M253.5 591.0h1.9 M434.7 591.0h-1.9 M253.5 569.5h1.9 M434.7 569.5h-1.9 M253.5 548.0h1.9 M434.7 548.0h-1.9 M253.5 526.5h1.9 M434.7 526.5h-1.9 M253.5 505.0h1.9 M434.7 505.0h-1.9" stroke="#111" stroke-width="1" fill="none"/>
<text x="344.2" y="689.9" font-size="9.9" text-anchor="middle">Added variables</text>
<text transform="translate(231.4 569.5) rotate(-90)" font-size="9.9" text-anchor="middle">Ind2</text>
<rect x="359.8" y="494.2" width="64.0" height="21.7" fill="#fff" stroke="#242424" stroke-width="1.2"/>
<path d="M363.0 500.6h13.8" stroke="#2a48ff" stroke-width="1.35"/>
<path d="M363.0 508.7h13.8" stroke="#2a9d24" stroke-width="1.35"/>
<text x="381.0" y="502.6" font-size="8.1">Calib</text>
<text x="381.0" y="510.7" font-size="8.1">Cross-valid</text>
</g>
<g>
<clipPath id="cp_c3"><rect x="473.5" y="483.5" width="180.7" height="172.0"/></clipPath>
<path d="M474.2 638.5 L474.6 636.3 L474.9 634.0 L475.3 631.8 L475.6 630.0 L476.0 628.3 L476.3 626.5 L476.7 624.8 L477.0 623.3 L477.4 621.9 L477.7 620.5 L478.1 619.1 L478.4 617.8 L478.8 616.7 L479.1 615.7 L479.5 614.6 L479.8 613.6 L480.2 612.9 L480.5 612.2 L480.9 611.5 L481.2 610.8 L481.6 610.4 L481.9 610.0 L482.3 609.7 L482.6 609.3 L483.0 609.0 L483.3 608.6 L483.7 608.2 L484.0 607.5 L484.4 606.8 L484.7 606.1 L485.1 605.4 L485.4 604.8 L485.8 604.2 L486.1 603.6 L486.5 603.0 L488.0 600.7 L489.5 598.7 L491.0 596.6 L492.5 594.5 L494.0 592.6 L495.5 590.7 L497.0 588.9 L498.5 587.2 L500.0 585.6 L501.5 584.1 L503.0 582.5 L504.5 580.9 L506.0 579.3 L507.5 577.7 L509.0 576.0 L510.5 574.4 L512.0 572.8 L513.5 571.3 L515.0 569.9 L516.5 568.6 L518.0 567.2 L519.5 565.9 L521.0 564.7 L522.5 563.6 L524.0 562.5 L525.5 561.4 L527.0 560.1 L528.5 558.8 L530.0 557.5 L531.5 556.3 L533.0 555.2 L534.5 554.1 L536.0 553.0 L537.5 552.0 L539.0 550.9 L540.5 549.9 L542.0 548.9 L543.5 547.9 L545.0 547.0 L546.5 546.2 L548.0 545.3 L549.5 544.5 L551.0 543.7 L552.5 542.9 L554.0 542.1 L555.5 541.2 L557.0 540.4 L558.5 539.6 L560.0 538.9 L561.5 538.1 L563.0 537.3 L564.5 536.6 L566.0 535.9 L567.5 535.1 L569.0 534.4 L570.5 533.8 L572.0 533.1 L573.5 532.4 L575.0 531.8 L576.5 531.1 L578.0 530.5 L579.5 529.9 L581.0 529.3 L582.5 528.7 L584.0 528.2 L585.5 527.7 L587.0 527.1 L588.5 526.6 L590.0 526.2 L591.5 525.8 L593.0 525.4 L594.5 525.0 L596.0 524.6 L597.5 524.1 L599.0 523.7 L600.5 523.3 L602.0 522.8 L603.5 522.4 L605.0 522.0 L606.5 521.5 L608.0 521.1 L609.5 520.7 L611.0 520.3 L612.5 519.9 L614.0 519.5 L615.5 519.1 L617.0 518.7 L618.5 518.4 L620.0 518.1 L621.5 517.7 L623.0 517.5 L624.5 517.2 L626.0 516.9 L627.5 516.7 L629.0 516.4 L630.5 516.2 L632.0 516.0 L633.5 515.7 L635.0 515.5 L636.5 515.3 L638.0 515.1 L639.5 514.9 L641.0 514.7 L642.5 514.6 L644.0 514.4 L645.5 514.3 L647.0 514.1 L648.5 514.0 L650.0 513.8 L651.5 513.6 L652.9 513.5" fill="none" stroke="#2a48ff" stroke-width="1.1" stroke-linejoin="round" stroke-linecap="round" clip-path="url(#cp_c3)"/>
<path d="M474.2 637.8 L474.6 635.3 L474.9 632.8 L475.3 630.3 L475.6 628.4 L476.0 626.4 L476.3 624.5 L476.7 622.6 L477.0 621.0 L477.4 619.6 L477.7 618.2 L478.1 616.8 L478.4 615.5 L478.8 614.2 L479.1 613.0 L479.5 611.8 L479.8 610.6 L480.2 609.3 L480.5 608.1 L480.9 606.9 L481.2 605.7 L481.6 604.2 L481.9 602.6 L482.3 601.0 L482.6 599.9 L483.0 599.0 L483.3 598.1 L483.7 597.2 L484.0 596.3 L484.4 595.4 L484.7 594.7 L485.1 594.0 L485.4 593.3 L485.8 592.6 L486.1 592.0 L486.5 591.3 L488.0 588.9 L489.5 586.5 L491.0 584.3 L492.5 582.2 L494.0 580.1 L495.5 578.2 L497.0 576.3 L498.5 574.3 L500.0 572.2 L501.5 570.1 L503.0 568.1 L504.5 566.1 L506.0 564.2 L507.5 562.3 L509.0 560.7 L510.5 559.0 L512.0 557.4 L513.5 555.8 L515.0 554.1 L516.5 552.5 L518.0 551.0 L519.5 549.4 L521.0 548.0 L522.5 546.6 L524.0 545.3 L525.5 544.0 L527.0 542.7 L528.5 541.5 L530.0 540.3 L531.5 539.2 L533.0 538.1 L534.5 537.1 L536.0 536.0 L537.5 535.0 L539.0 534.1 L540.5 533.1 L542.0 532.2 L543.5 531.3 L545.0 530.3 L546.5 529.4 L548.0 528.4 L549.5 527.5 L551.0 526.6 L552.5 525.8 L554.0 524.9 L555.5 524.0 L557.0 523.2 L558.5 522.4 L560.0 521.6 L561.5 520.8 L563.0 520.0 L564.5 519.2 L566.0 518.5 L567.5 517.7 L569.0 517.0 L570.5 516.2 L572.0 515.5 L573.5 514.8 L575.0 514.2 L576.5 513.5 L578.0 512.9 L579.5 512.2 L581.0 511.6 L582.5 511.0 L584.0 510.4 L585.5 509.8 L587.0 509.2 L588.5 508.7 L590.0 508.2 L591.5 507.8 L593.0 507.4 L594.5 507.0 L596.0 506.7 L597.5 506.3 L599.0 505.9 L600.5 505.5 L602.0 505.2 L603.5 504.9 L605.0 504.5 L606.5 504.1 L608.0 503.8 L609.5 503.4 L611.0 503.1 L612.5 502.8 L614.0 502.5 L615.5 502.2 L617.0 502.0 L618.5 501.8 L620.0 501.6 L621.5 501.4 L623.0 501.2 L624.5 500.9 L626.0 500.7 L627.5 500.5 L629.0 500.3 L630.5 500.2 L632.0 500.0 L633.5 499.9 L635.0 499.9 L636.5 499.8 L638.0 499.7 L639.5 499.6 L641.0 499.6 L642.5 499.5 L644.0 499.4 L645.5 499.3 L647.0 499.3 L648.5 499.2 L650.0 499.2 L651.5 499.4 L652.9 499.6" fill="none" stroke="#2a9d24" stroke-width="1.1" stroke-linejoin="round" stroke-linecap="round" clip-path="url(#cp_c3)"/>
<rect x="473.5" y="483.5" width="180.7" height="172.0" fill="none" stroke="#242424" stroke-width="1.1"/>
<text x="475.4" y="672.5" font-size="8.1" text-anchor="middle">0</text>
<text x="493.7" y="672.5" font-size="8.1" text-anchor="middle">20</text>
<text x="513.8" y="672.5" font-size="8.1" text-anchor="middle">40</text>
<text x="533.8" y="672.5" font-size="8.1" text-anchor="middle">60</text>
<text x="553.9" y="672.5" font-size="8.1" text-anchor="middle">80</text>
<text x="572.9" y="672.5" font-size="8.1" text-anchor="middle">100</text>
<text x="593.0" y="672.5" font-size="8.1" text-anchor="middle">120</text>
<text x="613.0" y="672.5" font-size="8.1" text-anchor="middle">140</text>
<text x="633.1" y="672.5" font-size="8.1" text-anchor="middle">160</text>
<text x="653.2" y="672.5" font-size="8.1" text-anchor="middle">180</text>
<text x="468.0" y="657.0" font-size="8.1" text-anchor="end">0</text>
<text x="468.0" y="640.7" font-size="8.1" text-anchor="end">2</text>
<text x="468.0" y="623.5" font-size="8.1" text-anchor="end">4</text>
<text x="468.0" y="606.3" font-size="8.1" text-anchor="end">6</text>
<text x="468.0" y="589.1" font-size="8.1" text-anchor="end">8</text>
<text x="468.0" y="571.9" font-size="8.1" text-anchor="end">10</text>
<text x="468.0" y="554.7" font-size="8.1" text-anchor="end">12</text>
<text x="468.0" y="537.5" font-size="8.1" text-anchor="end">14</text>
<text x="468.0" y="520.3" font-size="8.1" text-anchor="end">16</text>
<text x="468.0" y="503.1" font-size="8.1" text-anchor="end">18</text>
<text x="468.0" y="485.9" font-size="8.1" text-anchor="end">20</text>
<path d="M493.6 655.5v-1.6 M493.6 483.5v1.6 M513.7 655.5v-1.6 M513.7 483.5v1.6 M533.7 655.5v-1.6 M533.7 483.5v1.6 M553.8 655.5v-1.6 M553.8 483.5v1.6 M573.9 655.5v-1.6 M573.9 483.5v1.6 M594.0 655.5v-1.6 M594.0 483.5v1.6 M614.0 655.5v-1.6 M614.0 483.5v1.6 M634.1 655.5v-1.6 M634.1 483.5v1.6 M473.5 638.3h1.9 M654.2 638.3h-1.9 M473.5 621.1h1.9 M654.2 621.1h-1.9 M473.5 603.9h1.9 M654.2 603.9h-1.9 M473.5 586.7h1.9 M654.2 586.7h-1.9 M473.5 569.5h1.9 M654.2 569.5h-1.9 M473.5 552.3h1.9 M654.2 552.3h-1.9 M473.5 535.1h1.9 M654.2 535.1h-1.9 M473.5 517.9h1.9 M654.2 517.9h-1.9 M473.5 500.7h1.9 M654.2 500.7h-1.9" stroke="#111" stroke-width="1" fill="none"/>
<text x="565.0" y="689.9" font-size="9.9" text-anchor="middle">Added variables</text>
<text transform="translate(452.9 569.5) rotate(-90)" font-size="9.9" text-anchor="middle">Distance</text>
<rect x="587.3" y="625.8" width="63.9" height="22.7" fill="#fff" stroke="#242424" stroke-width="1.2"/>
<path d="M590.5 632.6h13.8" stroke="#2a48ff" stroke-width="1.35"/>
<path d="M590.5 641.7h13.8" stroke="#2a9d24" stroke-width="1.35"/>
<text x="608.5" y="634.6" font-size="8.1">Calib</text>
<text x="608.5" y="643.7" font-size="8.1">Cross-valid</text>
</g>
<text x="2.2" y="16.2" font-size="15.5" font-weight="bold" fill="#000">a</text>
<text x="2.2" y="239.5" font-size="15.5" font-weight="bold" fill="#000">b</text>
<text x="2.2" y="467.7" font-size="15.5" font-weight="bold" fill="#000">c</text>
</svg>
</body></html>
